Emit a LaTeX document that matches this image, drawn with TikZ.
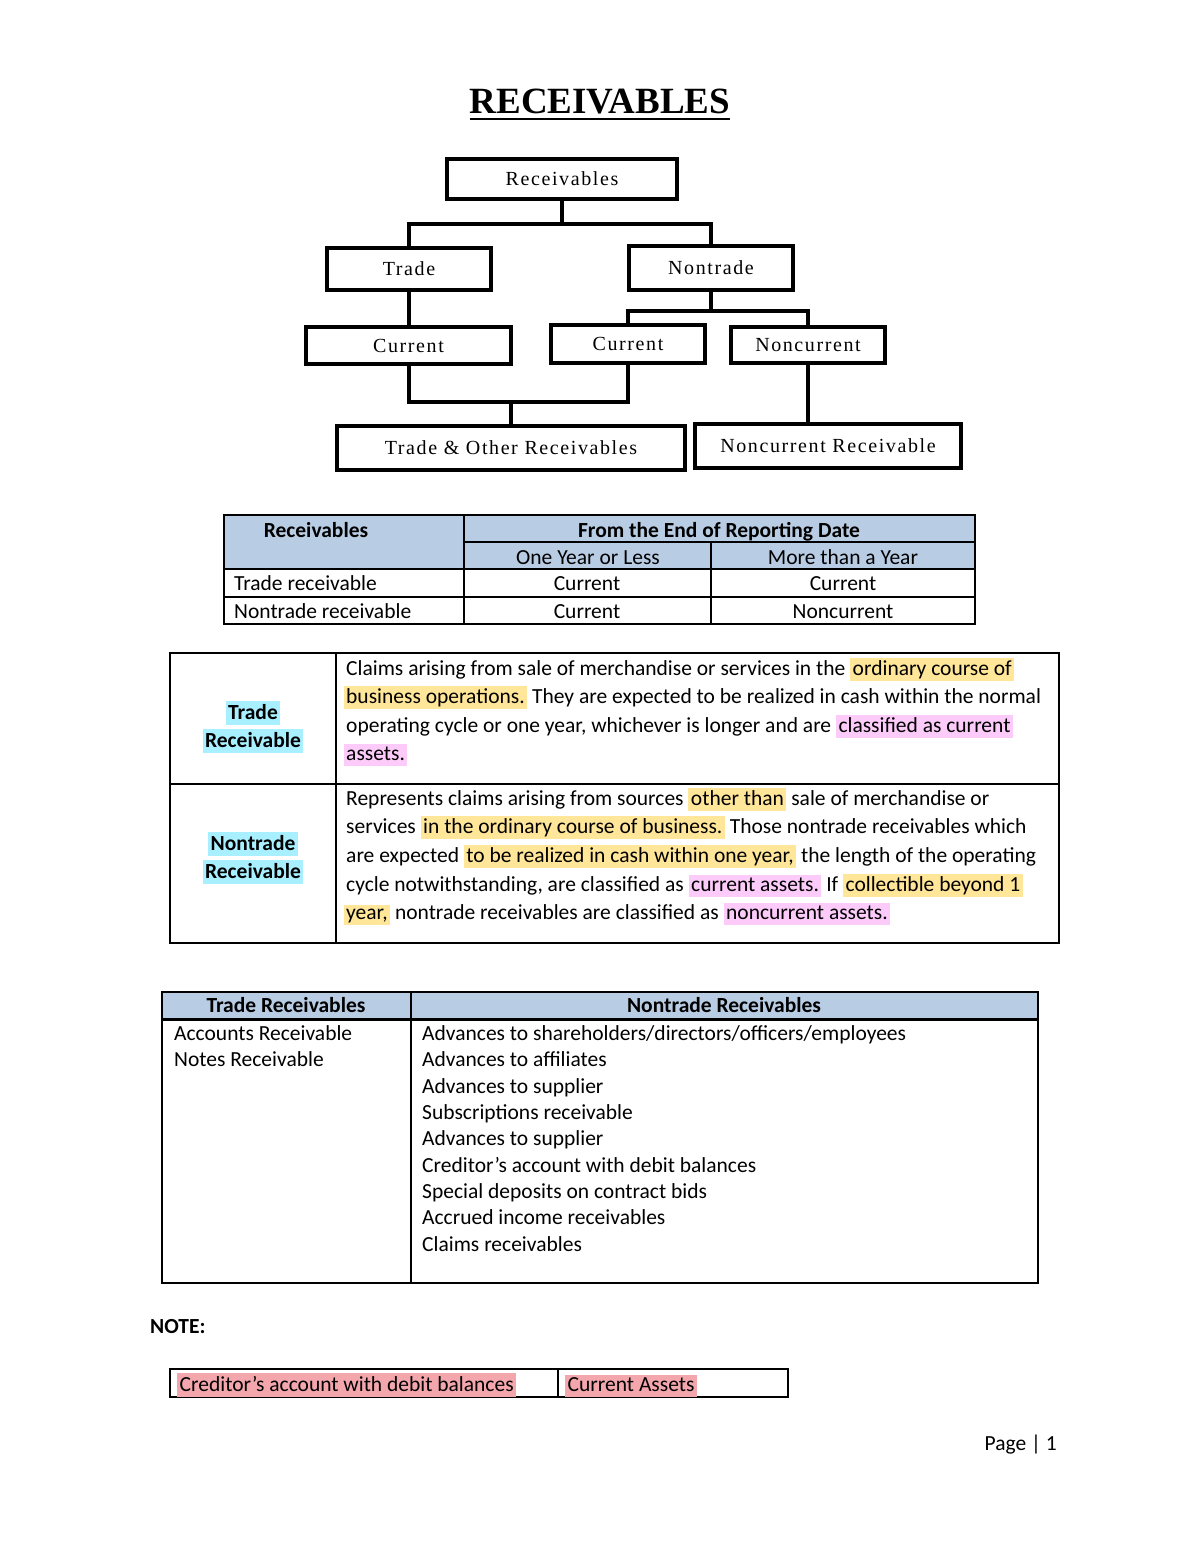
\documentclass[tikz,border=0pt]{standalone}
\usepackage{fontspec}
\setmainfont{Carlito}
\newfontfamily\treefont[LetterSpace=8]{Liberation Serif}
\newfontfamily\titlefont{Liberation Serif}
\usetikzlibrary{calc}
\definecolor{hdrblue}{HTML}{B8CCE4}
\definecolor{hlyel}{HTML}{FFE699}
\definecolor{hlpink}{HTML}{FCCBFA}
\definecolor{hlcyan}{HTML}{A8F0FF}
\definecolor{hlsal}{HTML}{F4A6AD}
\newcommand\bodysz{\fontsize{21.5}{26}\selectfont}
\newcommand\hlbox[2]{{\setlength{\fboxsep}{2.5pt}\colorbox{#1}{\rule[-3.5pt]{0pt}{15.5pt}#2}}}
\newcommand\hly[1]{\hlbox{hlyel}{#1}}
\newcommand\hlp[1]{\hlbox{hlpink}{#1}}
\newcommand\hlc[1]{\hlbox{hlcyan}{#1}}
\begin{document}
\begin{tikzpicture}[x=1pt,y=-1pt,
  every node/.style={font=\bodysz, inner sep=0pt},
  treebox/.style={draw, line width=4pt, font=\treefont\fontsize{20}{24}\selectfont, inner sep=0pt, line join=miter},
  conn/.style={line width=4pt, line join=miter},
  ctext/.style={anchor=base},
  ltext/.style={anchor=base west},
  rtext/.style={anchor=base east},
  outer/.style={line width=2.2pt},
  inner/.style={line width=1.6pt}]
\fill[white] (0,0) rectangle (1200,1553);
\useasboundingbox (0,0) rectangle (1200,1553);

% Title
\node[ctext, font=\titlefont\bfseries\fontsize{37}{40}\selectfont] (title) at (600,113) {RECEIVABLES};
\draw[line width=2pt] ([yshift=-6pt]title.base west) -- ([yshift=-6pt]title.base east);

% Tree
\node[treebox, minimum width=230pt, minimum height=40pt] (rec) at (562,179) {Receivables};
\node[treebox, minimum width=164pt, minimum height=42pt] (trade) at (409,269) {Trade};
\node[treebox, minimum width=164pt, minimum height=44pt] (nontrade) at (711,268) {Nontrade};
\node[treebox, minimum width=205pt, minimum height=37pt] (curA) at (408.5,345.5) {Current};
\node[treebox, minimum width=154pt, minimum height=38pt] (curB) at (628,344) {Current};
\node[treebox, minimum width=154pt, minimum height=36pt] (noncur) at (808,345) {Noncurrent};
\node[treebox, minimum width=348pt, minimum height=44pt] (tor) at (511,448) {Trade \& Other Receivables};
\node[treebox, minimum width=266pt, minimum height=44pt] (ncr) at (828,446) {Noncurrent Receivable};

\draw[conn] (rec.south) -- ++(0,23) -| (trade.north);
\draw[conn] (rec.south) -- ++(0,23) -| (nontrade.north);
\draw[conn] (trade.south) -- (trade.south |- curA.north);
\draw[conn] (nontrade.south) -- ++(0,19) -| (curB.north);
\draw[conn] (nontrade.south) -- ++(0,19) -| (noncur.north);
\draw[conn] (curA.south) -- ++(0,36) coordinate (jn) -| (curB.south);
\draw[conn] (tor.north) -- (tor.north |- jn);
\draw[conn] (noncur.south) -- (noncur.south |- ncr.north);

% Table 1
\fill[hdrblue] (224,515) rectangle (975,569);
\draw[inner] (464,515) -- (464,624);
\draw[inner] (711,542) -- (711,624);
\draw[inner] (464,542) -- (975,542);
\draw[inner] (224,569) -- (975,569);
\draw[inner] (224,597) -- (975,597);
\draw[outer] (224,515) rectangle (975,624);
\node[ctext, font=\bodysz\bfseries] (t1a) at (316,537) {Receivables};
\node[ctext, font=\bodysz\bfseries] (t1b) at (719,537) {From the End of Reporting Date};
\node[ctext] (t1c) at (588,564) {One Year or Less};
\node[ctext] (t1d) at (843,564) {More than a Year};
\node[ltext] (t1e) at (234,590) {Trade receivable};
\node[ctext] (t1f) at (587,590) {Current};
\node[ctext] (t1g) at (843,590) {Current};
\node[ltext] (t1h) at (234,618) {Nontrade receivable};
\node[ctext] (t1i) at (587,618) {Current};
\node[ctext] (t1j) at (843,618) {Noncurrent};

% Table 2
\draw[line width=2.6pt] (336,653) -- (336,943);
\draw[inner] (170,784) -- (1059,784);
\draw[outer] (170,653) rectangle (1059,943);
\node[ctext, font=\bodysz\bfseries] (t2a) at (253,719) {\hlc{Trade}};
\node[ctext, font=\bodysz\bfseries] (t2b) at (253,747) {\hlc{Receivable}};
\node[ctext, font=\bodysz\bfseries] (t2c) at (253,850) {\hlc{Nontrade}};
\node[ctext, font=\bodysz\bfseries] (t2d) at (253,878) {\hlc{Receivable}};

\node[ltext] (p1) at (346,675) {Claims arising from sale of merchandise or services in the \hly{ordinary course of}};
\node[ltext] (p2) at (346,703) {\kern-2.5pt\hly{business operations.} They are expected to be realized in cash within the normal};
\node[ltext] (p3) at (346,732) {operating cycle or one year, whichever is longer and are \hlp{classified as current}};
\node[ltext] (p4) at (346,760) {\kern-2.5pt\hlp{assets.}};

\node[ltext] (q1) at (346,805) {Represents claims arising from sources \hly{other than} sale of merchandise or};
\node[ltext] (q2) at (346,833) {services \hly{in the ordinary course of business.} Those nontrade receivables which};
\node[ltext] (q3) at (346,862) {are expected \hly{to be realized in cash within one year,} the length of the operating};
\node[ltext] (q4) at (346,891) {cycle notwithstanding, are classified as \hlp{current assets.} If \hly{collectible beyond 1}};
\node[ltext] (q5) at (346,919) {\kern-2.5pt\hly{year,} nontrade receivables are classified as \hlp{noncurrent assets.}};

% Table 3
\fill[hdrblue] (162,992) rectangle (1038,1019);
\draw[inner] (411,992) -- (411,1283);
\draw[line width=3pt] (162,1019) -- (1038,1019);
\draw[outer] (162,992) rectangle (1038,1283);
\node[ctext, font=\bodysz\bfseries] (t3a) at (286,1012) {Trade Receivables};
\node[ctext, font=\bodysz\bfseries] (t3b) at (724,1012) {Nontrade Receivables};
\node[ltext] (t3c) at (174,1040) {Accounts Receivable};
\node[ltext] (t3d) at (174,1066) {Notes Receivable};
\node[ltext] (n1) at (422,1040) {Advances to shareholders/directors/officers/employees};
\node[ltext] (n2) at (422,1066) {Advances to affiliates};
\node[ltext] (n3) at (422,1093) {Advances to supplier};
\node[ltext] (n4) at (422,1119) {Subscriptions receivable};
\node[ltext] (n5) at (422,1145) {Advances to supplier};
\node[ltext] (n6) at (422,1172) {Creditor’s account with debit balances};
\node[ltext] (n7) at (422,1198) {Special deposits on contract bids};
\node[ltext] (n8) at (422,1224) {Accrued income receivables};
\node[ltext] (n9) at (422,1251) {Claims receivables};

% Note
\node[ltext, font=\bodysz\bfseries] (note) at (150,1333) {NOTE:};
\draw[inner] (558,1369) -- (558,1397);
\draw[outer] (170,1369) rectangle (788,1397);
\node[ltext] (nt1) at (177,1391) {\hlbox{hlsal}{Creditor’s account with debit balances}};
\node[ltext] (nt2) at (565,1391) {\hlbox{hlsal}{Current Assets}};

% Page number
\node[rtext] (page) at (1057,1450) {Page | 1};
\end{tikzpicture}
\end{document}
